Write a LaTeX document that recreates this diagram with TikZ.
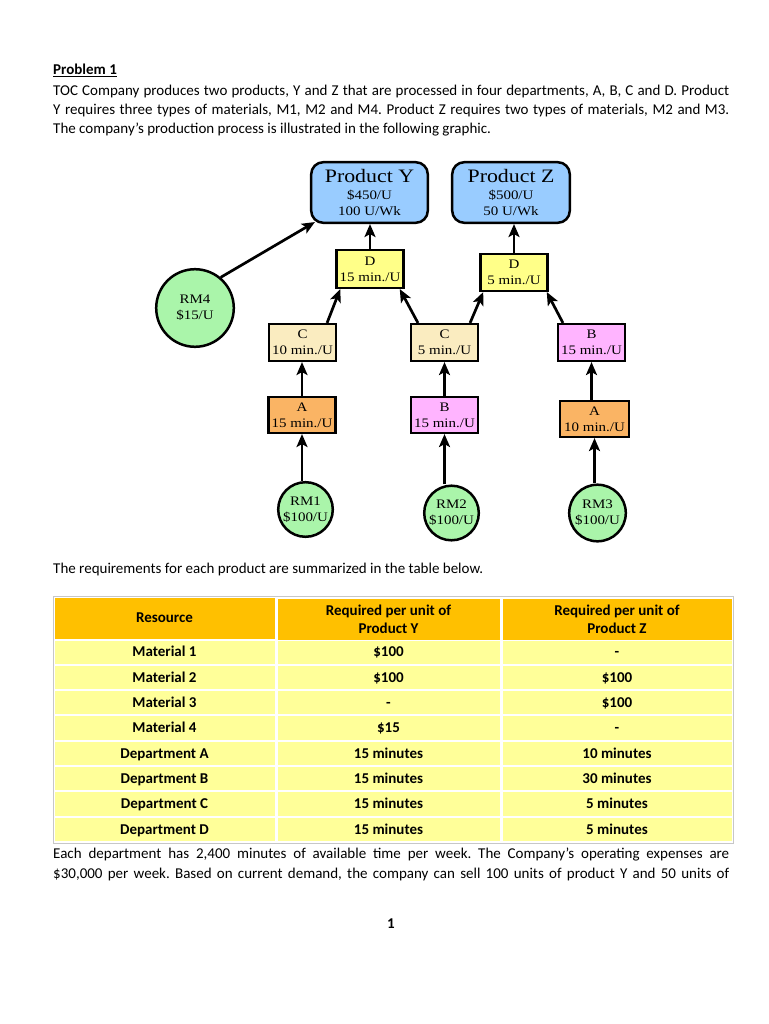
\documentclass[tikz,border=0pt]{standalone}
\usepackage{fontspec}
\setmainfont{Carlito}
\newfontfamily\dserif[FakeStretch=1.15]{Liberation Serif}
\usetikzlibrary{arrows.meta,calc}
\definecolor{prodblue}{RGB}{153,204,255}
\definecolor{dyellow}{RGB}{255,255,136}
\definecolor{cbeige}{RGB}{250,236,192}
\definecolor{bpink}{RGB}{255,180,255}
\definecolor{aorange}{RGB}{250,180,100}
\definecolor{rmgreen}{RGB}{170,245,170}
\definecolor{hdrorange}{RGB}{255,192,0}
\definecolor{rowyellow}{RGB}{255,255,153}
\newcommand\bodyfont{\frenchspacing\fontsize{15}{18}\selectfont}
\newcommand\dfont{\dserif\fontsize{13}{16}\selectfont}
\begin{document}
\begin{tikzpicture}[x=1pt,y=-1pt,
  txt/.style={anchor=base west, inner sep=0pt, font=\bodyfont},
  prod/.style={draw, line width=2.5pt, rounded corners=12pt, fill=prodblue,
    minimum height=60.6pt, inner sep=0pt, align=center, font=\dfont},
  dept/.style={draw, line width=2.5pt, minimum width=67pt, minimum height=36.6pt,
    inner sep=0pt, align=center, font=\dfont},
  rm/.style={circle, draw, line width=2.5pt, fill=rmgreen, inner sep=0pt,
    align=center, font=\dfont},
  flow/.style={line width=2.7pt, -{Stealth[length=13pt,width=11pt,inset=3pt]}},
  cell/.style={inner sep=0pt, minimum height=23.3pt, font=\bodyfont\bfseries,
    align=center},
  rowtext/.style={text height=10.4pt, text depth=1pt}
]
\useasboundingbox (0,0) rectangle (768,1024);
\fill[white] (0,0) rectangle (768,1024);

% ---------- text ----------
\node[txt, font=\bodyfont\bfseries] (title) at (53,75) {\underline{Problem 1}};
\node[txt] (p1) at (53,95.5) {\makebox[676pt][s]{TOC Company produces two products, Y and Z that are processed in four departments, A, B, C and D. Product}};
\node[txt] (p2) at (53,114.5) {\makebox[676pt][s]{Y requires three types of materials, M1, M2 and M4. Product Z requires two types of materials, M2 and M3.}};
\node[txt] (p3) at (53,133.5) {The company's production process is illustrated in the following graphic.};
\node[txt] (p4) at (53,573.5) {The requirements for each product are summarized in the table below.};
\node[txt] (p5) at (53,858.5) {\makebox[676pt][s]{Each department has 2,400 minutes of available time per week. The Company's operating expenses are}};
\node[txt] (p6) at (53,878) {\makebox[676pt][s]{\$30,000 per week. Based on current demand, the company can sell 100 units of product Y and 50 units of}};
\node[inner sep=0pt, font=\bodyfont\bfseries] (pg) at (391,924) {1};

% ---------- diagram ----------
\node[prod, minimum width=116.6pt] (py) at (369.5,192.5)
  {{\dserif\fontsize{19}{20}\selectfont Product Y}\\[1.5pt]\$450/U\\100 U/Wk};
\node[prod, minimum width=117.6pt] (pz) at (511,192.5)
  {{\dserif\fontsize{19}{20}\selectfont Product Z}\\[1.5pt]\$500/U\\50 U/Wk};

\node[dept, fill=dyellow, minimum height=37.6pt] (dl) at (370,269) {D\\15 min./U};
\node[dept, fill=dyellow] (dr) at (514,272.5) {D\\5 min./U};
\node[dept, fill=cbeige, minimum width=66.6pt] (cl) at (302.5,342.5) {C\\10 min./U};
\node[dept, fill=cbeige, minimum width=66.6pt] (cm) at (444.5,342.5) {C\\5 min./U};
\node[dept, fill=bpink, minimum width=66.6pt] (br) at (591.5,342.5) {B\\15 min./U};
\node[dept, fill=aorange, minimum height=35.6pt] (al) at (302,415) {A\\15 min./U};
\node[dept, fill=bpink, minimum width=66.6pt, minimum height=35.6pt] (bm) at (444.5,415) {B\\15 min./U};
\node[dept, fill=aorange, minimum width=68.6pt, minimum height=35.6pt] (ar) at (594.5,419) {A\\10 min./U};

\node[rm, minimum size=77.6pt] (rm4) at (195,308) {RM4\\\$15/U};
\node[rm, minimum size=54.6pt] (rm1) at (305.5,509.5) {RM1\\\$100/U};
\node[rm, minimum size=54.6pt] (rm2) at (451.5,513) {RM2\\\$100/U};
\node[rm, minimum size=56.6pt] (rm3) at (597.5,513) {RM3\\\$100/U};

\coordinate (pyin) at ($(py.south west)+(5,-2)$);

\draw[flow] (rm4.50) -- (pyin);
\draw[flow] (dl.north) -- (dl.north |- py.south);
\draw[flow] (dr.north) -- (dr.north |- pz.south);
\draw[flow] ($(cl.north east)+(-10,0)$) -- ($(dl.south west)+(5,0)$);
\draw[flow] ($(cm.north west)+(8,0)$) -- ($(dl.south east)+(-5,0)$);
\draw[flow] ($(cm.north east)+(-9,0)$) -- ($(dr.south west)+(4,0)$);
\draw[flow] ($(br.north west)+(6,0)$) -- ($(dr.south east)+(-2,0)$);
\draw[flow] (al.north) -- (al.north |- cl.south);
\draw[flow] (bm.north) -- (bm.north |- cm.south);
\draw[flow] (ar.north -| br.south) -- (br.south);
\draw[flow] (al.south |- rm1.north) -- (al.south);
\draw[flow] (bm.south |- rm2.north) -- (bm.south);
\draw[flow] (ar.south |- rm3.north) -- (ar.south);

% ---------- table ----------
\draw[black!22, line width=0.8pt] (53,596) rectangle (733,843);
\node[cell, rowtext, fill=hdrorange, minimum width=220pt, minimum height=41pt] (h1) at (164.5,618) {Resource};
\node[cell, fill=hdrorange, minimum width=222pt, minimum height=41pt] (h2) at (388.5,619) {Required per unit of\\Product Y};
\node[cell, fill=hdrorange, minimum width=229pt, minimum height=41pt] (h3) at (617,619) {Required per unit of\\Product Z};
\foreach \a/\b/\c [count=\i from 0] in {Material 1/\$100/-, Material 2/\$100/\$100,
   Material 3/-/\$100, Material 4/\$15/-, Department A/15 minutes/10 minutes,
   Department B/15 minutes/30 minutes, Department C/15 minutes/5 minutes,
   Department D/15 minutes/5 minutes}{
  \pgfmathsetmacro\yc{652.2+25.3*\i}
  \node[cell, rowtext, fill=rowyellow, minimum width=220pt] (ra\i) at (164.5,\yc) {\a};
  \node[cell, rowtext, fill=rowyellow, minimum width=222pt] (rb\i) at (388.5,\yc) {\b};
  \node[cell, rowtext, fill=rowyellow, minimum width=229pt] (rc\i) at (617,\yc) {\c};
}
\end{tikzpicture}
\end{document}
